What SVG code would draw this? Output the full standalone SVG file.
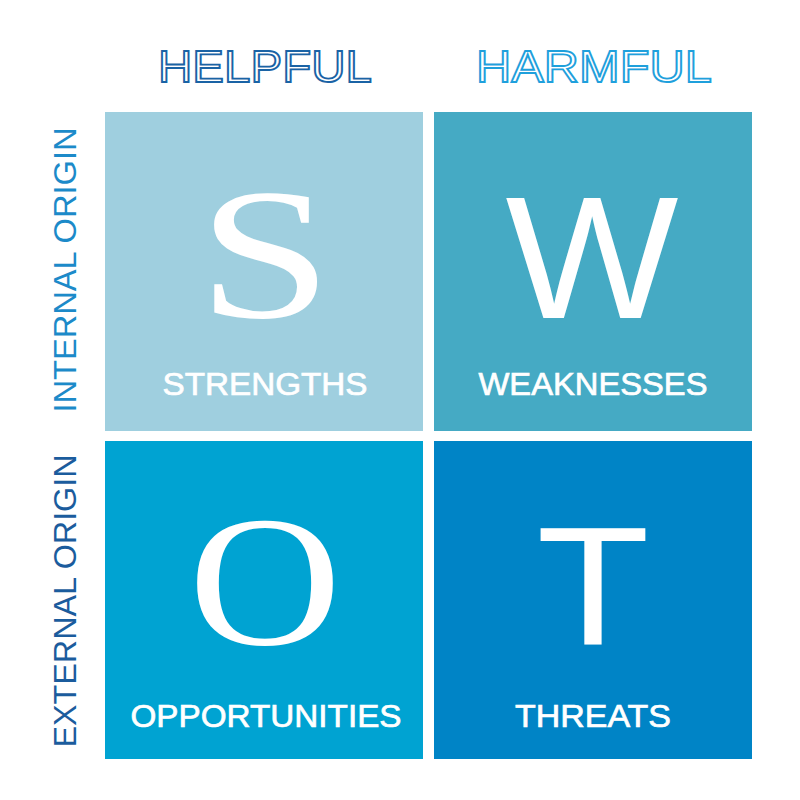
<svg xmlns="http://www.w3.org/2000/svg" width="800" height="800" viewBox="0 0 800 800">
<style>
.hdr{font-family:"Liberation Sans",Arial,sans-serif;font-size:44px;fill:#ffffff;stroke-width:1.8;text-anchor:middle}
.side{font-family:"Liberation Sans",Arial,sans-serif;font-size:32px;text-anchor:middle}
.big{font-family:"Liberation Serif","Times New Roman",serif;font-size:186px;fill:#ffffff;text-anchor:middle}
.bigs{font-family:"Liberation Sans",Arial,sans-serif;fill:#ffffff;text-anchor:middle}
.lbl{font-family:"Liberation Sans",Arial,sans-serif;font-size:32px;fill:#ffffff;text-anchor:middle;stroke:#ffffff;stroke-width:0.7}
</style>
<rect width="800" height="800" fill="#ffffff"/>
<g id="headers">
<text class="hdr" x="265" y="82" stroke="#1a63a5" textLength="214" lengthAdjust="spacingAndGlyphs">HELPFUL</text>
<text class="hdr" x="594" y="82" stroke="#1fa0dc" textLength="236" lengthAdjust="spacingAndGlyphs">HARMFUL</text>
</g>
<g id="side-labels">
<text class="side" transform="translate(76,270) rotate(-90)" fill="#1c8ac9" textLength="285" lengthAdjust="spacingAndGlyphs">INTERNAL ORIGIN</text>
<text class="side" transform="translate(76,601) rotate(-90)" fill="#1b5c9d" textLength="293" lengthAdjust="spacingAndGlyphs">EXTERNAL ORIGIN</text>
</g>
<g id="strengths">
<rect x="105" y="112" width="318" height="319" fill="#9fcfdf"/>
<text class="big" x="265" y="317" textLength="134" lengthAdjust="spacingAndGlyphs">S</text>
<text class="lbl" x="265" y="395" textLength="205" lengthAdjust="spacingAndGlyphs">STRENGTHS</text>
</g>
<g id="weaknesses">
<rect x="434" y="112" width="318" height="319" fill="#45aac4"/>
<text class="bigs" x="592" y="318" font-size="175" textLength="173" lengthAdjust="spacingAndGlyphs">W</text>
<text class="lbl" x="593" y="395" textLength="229" lengthAdjust="spacingAndGlyphs">WEAKNESSES</text>
</g>
<g id="opportunities">
<rect x="105" y="441" width="318" height="318" fill="#00a3d2"/>
<text class="big" x="265" y="644" textLength="153" lengthAdjust="spacingAndGlyphs">O</text>
<text class="lbl" x="266" y="727" textLength="271" lengthAdjust="spacingAndGlyphs">OPPORTUNITIES</text>
</g>
<g id="threats">
<rect x="434" y="441" width="318" height="318" fill="#0084c6"/>
<text class="bigs" x="593" y="644" font-size="169" textLength="113" lengthAdjust="spacingAndGlyphs">T</text>
<text class="lbl" x="593" y="727" textLength="156" lengthAdjust="spacingAndGlyphs">THREATS</text>
</g>
</svg>
